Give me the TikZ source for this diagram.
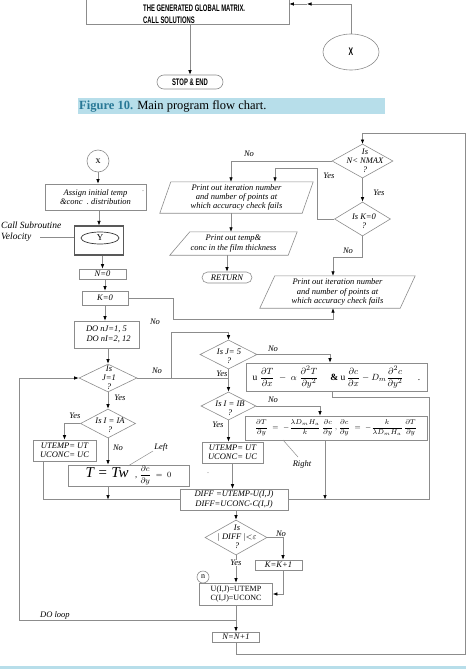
\documentclass[tikz,border=0pt]{standalone}
\usepackage{fontspec}
\usepackage{amsmath}
\setmainfont{Liberation Serif}
\newfontfamily\condsans[FakeStretch=0.62]{Liberation Sans}
\usetikzlibrary{shapes.geometric,shapes.misc,arrows.meta,calc}
\definecolor{ln}{RGB}{140,140,140}
\definecolor{capbg}{RGB}{183,222,234}
\definecolor{capfig}{RGB}{40,120,150}
\begin{document}
\begin{tikzpicture}[x=1pt,y=-1pt,
  bx/.style={draw=ln,line width=0.6pt,inner sep=0pt,align=center,font=\itshape\fontsize{8.5}{9.5}\selectfont},
  dia/.style={diamond,draw=ln,line width=0.6pt,inner sep=0pt},
  con/.style={draw=ln,line width=0.6pt},
  arr/.style={draw=ln,line width=0.6pt,-{Latex[length=4.5pt,width=3.5pt,color=black]}},
  lab/.style={inner sep=0pt,align=center,font=\itshape\fontsize{8.5}{9.2}\selectfont},
  para/.style={draw=ln,line width=0.6pt},
  topf/.style={inner sep=0pt,font=\condsans\bfseries\fontsize{9.5}{11}\selectfont}]
\useasboundingbox (0,0) rectangle (474,669);

% ---------- top part ----------
\node[draw=ln,line width=0.6pt,minimum width=203,minimum height=36,inner sep=0] (gm) at (187.5,6) {};
\node[topf,anchor=west] (gmt1) at (143,8.5) {THE GENERATED GLOBAL MATRIX.};
\node[topf,anchor=west] (gmt2) at (143,20) {CALL SOLUTIONS};
\node[ellipse,draw=ln,line width=0.6pt,minimum width=56,minimum height=36,inner sep=0,
      font=\condsans\bfseries\fontsize{11}{12}\selectfont] (X) at (351,52) {X};
\node[rounded rectangle,draw=ln,line width=0.6pt,minimum width=66,minimum height=14,inner sep=0,topf] (stop) at (190,82) {STOP \& END};
\coordinate (gmA) at (307,4);
\draw[arr] (X.north) |- (gmA);
\draw[arr] (gmA) -- (gm.east |- 0,4);
\draw[arr] (stop.north |- gm.south) -- (stop.north);

\fill[capbg] (78,98) rectangle (385,114);
\node[anchor=west,inner sep=0,font=\fontsize{12.5}{14}\selectfont] (cap) at (79,106) {\textcolor{capfig}{\textbf{Figure 10.}} Main program flow chart.};
\fill[capbg] (0,666) rectangle (466,669);

% ---------- left column ----------
\node[circle,draw=ln,line width=0.6pt,minimum size=22,inner sep=0,font=\fontsize{10}{11}\selectfont] (cx) at (98,161) {x};
\node[bx,minimum width=101,minimum height=26] (assign) at (95.5,197) {Assign initial temp\\\&conc\ \ .\ distribution};
\node[inner sep=0,font=\fontsize{6}{6}\selectfont] (dot1) at (143,191) {.};
\draw[arr] (cx.south) -- (cx.south |- assign.north);

\node[draw=black!65,line width=1.1pt,minimum width=49,minimum height=29,inner sep=0] (ybox) at (99,240.5) {};
\node[ellipse,draw=black!80,line width=0.7pt,minimum width=38,minimum height=12,inner sep=0,font=\fontsize{9}{10}\selectfont] (yell) at (100,238) {Y};
\draw[arr] (ybox.north |- assign.south) -- (ybox.north);
\node[lab,anchor=west,font=\itshape\fontsize{9.5}{10}\selectfont] (cs1) at (1,225) {Call Subroutine};
\node[lab,anchor=west,font=\itshape\fontsize{9.5}{10}\selectfont] (cs2) at (1,237) {Velocity};
\coordinate (csl) at (40,237);
\draw[con] (csl) -- (ybox.west |- csl);

\node[bx,minimum width=47,minimum height=10] (n0) at (102.5,274) {N=0};
\draw[arr] (n0.north |- ybox.south) -- (n0.north);
\node[bx,minimum width=46,minimum height=14] (k0) at (105,298) {K=0};
\draw[arr] (k0.north |- n0.south) -- (k0.north);
\node[bx,minimum width=65,minimum height=27] (do) at (106.5,334.5) {DO nJ=1, 5\\\ \ DO nI=2, 12};
\draw[arr] (k0.south) -- (k0.south |- do.north);

\node[dia,minimum width=58,minimum height=28] (J1) at (108,378) {};
\node[lab] (J1t) at (109,378) {Is\\J=1\\?};
\draw[arr] (J1.north |- do.south) -- (J1.north);

\node[dia,minimum width=55,minimum height=29] (IA) at (108,423.5) {};
\node[lab] (IAt) at (110,425) {Is I = IA\\?};
\draw[arr] (J1.south) -- (IA.north);

\node[bx,minimum width=63,minimum height=21] (ut1) at (64.5,450.5) {UTEMP= UT\\UCONC= UC};
\draw[arr] (IA.west) -| (ut1.north);
\node[bx,minimum width=121,minimum height=21] (tw) at (128.5,475.5)
  {{\fontsize{15}{15}\selectfont \textit{T} = \textit{Tw}}\ \ \ ,\ {\fontsize{8.5}{9}\selectfont $\dfrac{\partial c}{\partial y}\;=\;0$}};
\draw[arr] (IA.south) -- (IA.south |- tw.north);

\node[bx,minimum width=108,minimum height=21] (diff) at (234,499.5) {DIFF =UTEMP-U(I,J)\\DIFF=UCONC-C(I,J)};
\draw[con] (ut1.south -| 43,0) |- (diff.west);
\draw[arr] (tw.south -| 108,0) -- (108,0 |- diff.west);

% ---------- right column ----------
\node[dia,minimum width=57,minimum height=29] (J5) at (228.5,354.5) {};
\node[lab] (J5t) at (229,356) {Is J= 5\\?};
\coordinate (jn) at (171,378);
\draw[con] (J1.east) -- (J5.south |- J1.east);
\draw[arr] (jn) -- (171,332) -| (J5.north);

\node[bx,minimum width=181,minimum height=28,font=\fontsize{9.5}{10}\selectfont] (eq1) at (336.5,377)
  {$\mathrm{u}\;\dfrac{\partial T}{\partial x}\;-\;\alpha\;\dfrac{\partial^{2}T}{\partial y^{2}}$\quad\ \textbf{\&}\ $\mathrm{u}\,\dfrac{\partial c}{\partial x}-D_{m}\dfrac{\partial^{2}c}{\partial y^{2}}$\quad\ \ .};
\draw[arr] (J5.east) -| (330,0 |- eq1.north);

\node[dia,minimum width=55,minimum height=28] (IB) at (228.5,406) {};
\node[lab] (IBt) at (230,408) {Is I = IB\\?};
\draw[arr] (J5.south) -- (IB.north);

\node[bx,minimum width=182,minimum height=24,font=\fontsize{7.5}{8}\selectfont] (eq2) at (336,428)
  {$\dfrac{\partial T}{\partial y}\;=\;-\dfrac{\lambda D_m H_a}{k}\,\dfrac{\partial c}{\partial y}\,,\dfrac{\partial c}{\partial y}\;=\;-\dfrac{k}{\lambda D_m H_a}\,\dfrac{\partial T}{\partial y}$};
\draw[arr] (IB.east) -| (320,0 |- eq2.north);

\node[bx,minimum width=61,minimum height=21] (ut2) at (232.5,452.5) {UTEMP= UT\\UCONC= UC};
\draw[arr] (IB.south) -- (IB.south |- ut2.north);
\draw[arr] (ut2.south) -- (ut2.south |- diff.north);
\draw[con] (332,0 |- eq1.south) |- (429,397) |- (diff.east);
\draw[arr] (325,0 |- eq2.south) -- (325,0 |- diff.east);
\node[inner sep=0,font=\fontsize{6}{6}\selectfont] (dot2) at (208,473) {.};

% ---------- bottom ----------
\node[dia,minimum width=62,minimum height=35] (dd) at (236,537.5) {};
\node[lab] (ddt) at (237,537) {Is\\$|$ DIFF $|{<}\varepsilon$\\?};
\draw[arr] (dd.north |- diff.south) -- (dd.north);
\node[bx,minimum width=47,minimum height=10] (kk) at (278.5,565) {K=K+1};
\draw[arr] (dd.east) -| (283,0 |- kk.north);
\node[bx,minimum width=73,minimum height=22,font=\fontsize{8}{9}\selectfont] (ub) at (236,594) {U(I,J)=UTEMP\\C(I,J)=UCONC};
\draw[arr] (283,0 |- kk.south) |- (ub.east);
\draw[arr] (dd.south) -- (dd.south |- ub.north);
\node[circle,draw=ln,line width=0.6pt,minimum size=12,inner sep=0,fill=white,font=\fontsize{8}{9}\selectfont] (nc) at (203,577) {n};

\node[bx,minimum width=47,minimum height=10] (nn) at (236,637) {N=N+1};
\coordinate (dl) at (236,620);
\draw[arr] (ub.south) -- (ub.south |- nn.north);
\draw[arr] (dl) -| (19,378) -- (J1.west);
\draw[arr] (nn.south) -- (nn.south |- 0,654) -| (465,133) -| (362.5,144);

% ---------- top right ----------
\node[dia,minimum width=61,minimum height=34] (nmax) at (362.5,161) {};
\node[lab] (nmaxt) at (365,161) {Is\\N{<} NMAX\\?};
\node[lab,minimum width=153,minimum height=31] (p1) at (236.5,197.5) {Print out iteration number\\and number of points at\\which accuracy check fails};
\draw[para] ($(p1.north west)+(11,0)$) -- (p1.north east) -- ($(p1.south east)+(-11,0)$) -- (p1.south west) -- cycle;
\draw[arr] (nmax.west) -| (231,0 |- p1.north);
\node[lab,minimum width=127,minimum height=23] (p2) at (233.5,243.5) {Print out temp\&\\conc in the film thickness};
\draw[para] ($(p2.north west)+(20,0)$) -- (p2.north east) -- ($(p2.south east)+(-9,0)$) -- (p2.south west) -- cycle;
\draw[arr] (231,0 |- p1.south) -- (231,0 |- p2.north);
\node[rounded rectangle,draw=ln,line width=0.6pt,minimum width=50,minimum height=11,inner sep=0,lab] (ret) at (227,277.5) {RETURN};
\draw[arr] (ret.north |- p2.south) -- (ret.north);

\node[dia,minimum width=56,minimum height=34] (kz) at (362.5,219) {};
\node[lab] (kzt) at (364,221) {Is K=0\\?};
\draw[arr] (nmax.south) -- (kz.north);
\draw[arr] (kz.west) -| (317,168) -| (275,0 |- p1.north);

\node[lab,minimum width=155,minimum height=32] (p3) at (337.5,292) {Print out iteration number\\and number of points at\\which accuracy check fails};
\draw[para] ($(p3.north west)+(15,0)$) -- (p3.north east) -- ($(p3.south east)+(-15,0)$) -- (p3.south west) -- cycle;
\draw[arr] (kz.south) -- (kz.south |- 0,257) -| (333,0 |- p3.north);
\draw[arr] (k0.east) -| (173,319) -| (333,0 |- p3.south);

% ---------- labels ----------
\node[lab] (l1) at (249,154) {No};
\node[lab] (l2) at (329,176) {Yes};
\node[lab] (l3) at (379,193) {Yes};
\node[lab] (l4) at (348,251) {No};
\node[lab] (l5) at (155,322) {No};
\node[lab] (l6) at (157,371) {No};
\node[lab] (l7) at (120,398) {Yes};
\node[lab] (l8) at (75,416) {Yes};
\node[lab] (l9) at (118,448) {No};
\node[lab] (l10) at (161,447) {Left};
\coordinate (lf1) at (153,451);
\coordinate (lf2) at (128,466);
\draw[con,line width=0.5pt] (lf1) -- (lf2);
\node[lab] (l11) at (273,349) {No};
\node[lab] (l12) at (222,374) {Yes};
\node[lab] (l13) at (273,400) {No};
\node[lab] (l14) at (218,425) {Yes};
\node[lab] (l15) at (302,464) {Right};
\coordinate (rt1) at (283,440);
\coordinate (rt2) at (298,457);
\draw[con,line width=0.5pt] (rt1) -- (rt2);
\node[lab] (l16) at (281,534) {No};
\node[lab,fill=white,inner sep=0.5pt] (l17) at (236,563) {Yes};
\node[lab,anchor=west] (l18) at (40,615) {DO loop};
\end{tikzpicture}
\end{document}
